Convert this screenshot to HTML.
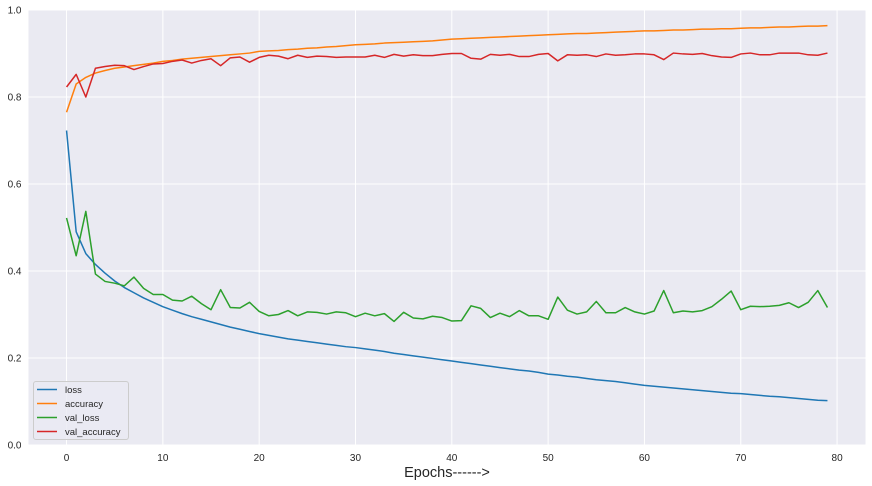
<!DOCTYPE html>
<html><head><meta charset="utf-8"><style>
body{margin:0;background:#fff;}
svg{display:block;font-family:"Liberation Sans",sans-serif;}
</style></head><body>
<svg id="chart" width="872" height="486"></svg>
<script>
const epochs=[];for(let i=0;i<80;i++)epochs.push(i);
const loss=[0.723,0.49,0.44,0.415,0.395,0.377,0.362,0.35,0.338,0.328,0.318,0.31,0.302,0.295,0.289,0.283,0.277,0.271,0.266,0.261,0.256,0.252,0.248,0.244,0.241,0.238,0.235,0.232,0.229,0.226,0.224,0.221,0.218,0.215,0.211,0.208,0.205,0.202,0.199,0.196,0.193,0.190,0.187,0.184,0.181,0.178,0.175,0.172,0.170,0.167,0.163,0.161,0.158,0.156,0.153,0.150,0.148,0.146,0.143,0.140,0.137,0.135,0.133,0.131,0.129,0.127,0.125,0.123,0.121,0.119,0.118,0.116,0.114,0.112,0.111,0.109,0.107,0.105,0.103,0.102];
const accuracy=[0.765,0.83,0.845,0.855,0.861,0.866,0.869,0.872,0.875,0.878,0.882,0.884,0.887,0.889,0.891,0.893,0.895,0.897,0.899,0.901,0.905,0.906,0.907,0.909,0.910,0.912,0.913,0.915,0.916,0.918,0.920,0.921,0.922,0.924,0.925,0.926,0.927,0.928,0.929,0.931,0.933,0.934,0.935,0.936,0.937,0.938,0.939,0.940,0.941,0.942,0.943,0.944,0.945,0.946,0.946,0.947,0.948,0.949,0.950,0.951,0.952,0.952,0.953,0.954,0.954,0.955,0.956,0.956,0.957,0.957,0.958,0.959,0.959,0.960,0.961,0.961,0.962,0.963,0.963,0.964];
const valLoss=[0.522,0.435,0.537,0.393,0.376,0.372,0.366,0.386,0.36,0.346,0.346,0.333,0.331,0.342,0.325,0.311,0.357,0.316,0.315,0.328,0.307,0.297,0.300,0.309,0.297,0.306,0.305,0.301,0.306,0.304,0.295,0.303,0.297,0.302,0.284,0.305,0.292,0.290,0.296,0.293,0.285,0.286,0.320,0.314,0.293,0.303,0.295,0.309,0.297,0.297,0.289,0.340,0.310,0.301,0.306,0.330,0.304,0.304,0.316,0.306,0.301,0.308,0.355,0.304,0.308,0.306,0.309,0.318,0.335,0.354,0.311,0.319,0.318,0.319,0.321,0.327,0.316,0.328,0.355,0.316];
const valAccuracy=[0.823,0.852,0.800,0.866,0.870,0.873,0.872,0.863,0.870,0.876,0.877,0.882,0.885,0.878,0.884,0.888,0.872,0.890,0.892,0.880,0.891,0.896,0.894,0.888,0.896,0.891,0.894,0.893,0.891,0.892,0.892,0.892,0.896,0.891,0.898,0.894,0.897,0.895,0.895,0.898,0.900,0.900,0.889,0.887,0.898,0.896,0.898,0.893,0.893,0.898,0.900,0.883,0.897,0.896,0.897,0.893,0.899,0.896,0.897,0.899,0.899,0.897,0.886,0.901,0.899,0.898,0.900,0.895,0.892,0.891,0.899,0.901,0.897,0.897,0.901,0.901,0.901,0.897,0.896,0.901];
const xTicks=[0,10,20,30,40,50,60,70,80];
const yTicks=[0.0,0.2,0.4,0.6,0.8,1.0];
const seriesNames=['loss','accuracy','val_loss','val_accuracy'];
const seriesColors=['#1f77b4','#ff7f0e','#2ca02c','#d62728'];
const seriesData=[loss,accuracy,valLoss,valAccuracy];

const NS='http://www.w3.org/2000/svg';
const svg=document.getElementById('chart');
const L=28.5,R=865.5,T=10,B=445;
const xmin=-3.95,xmax=82.95;
const X=v=>L+(v-xmin)/(xmax-xmin)*(R-L);
const Y=v=>B-v*(B-T);
function mk(tag,attrs,parent){const e=document.createElementNS(NS,tag);for(const k in attrs)e.setAttribute(k,attrs[k]);(parent||svg).appendChild(e);return e;}
const bg=mk('rect',{x:L,y:T,width:R-L,height:B-T,fill:'#eaeaf2'});


xTicks.forEach(t=>{
  const g=mk('line',{x1:X(t),x2:X(t),y1:T,y2:B,stroke:'#fff','stroke-width':1});
  
  
  const tx=mk('text',{x:X(t),y:B+16,'text-anchor':'middle','font-size':10,fill:'#262626'});
  tx.textContent=t;
  
  
});
yTicks.forEach(t=>{
  const g=mk('line',{x1:L,x2:R,y1:Y(t),y2:Y(t),stroke:'#fff','stroke-width':1});
  
  
  const tx=mk('text',{x:L-7,y:Y(t)+3.5,'text-anchor':'end','font-size':10,fill:'#262626'});
  tx.textContent=t.toFixed(1);
  
  
});
seriesData.forEach((d,i)=>{
  const p=mk('polyline',{points:d.map((v,j)=>X(epochs[j])+','+Y(v)).join(' '),fill:'none',stroke:seriesColors[i],'stroke-width':1.5,'stroke-linejoin':'round'});
  
  
});
const xl=mk('text',{x:(L+R)/2,y:477,'text-anchor':'middle','font-size':14.5,fill:'#262626'});
xl.textContent='Epochs------>';


const lg=mk('g',{});


mk('rect',{x:33.5,y:381.5,width:95,height:58,rx:2.5,fill:'#eaeaf2','fill-opacity':0.8,stroke:'#cccccc','stroke-width':1},lg);
seriesNames.forEach((n,i)=>{
  const yy=389.5+i*14;
  const ln=mk('line',{x1:37,x2:57,y1:yy,y2:yy,stroke:seriesColors[i],'stroke-width':1.5},lg);
  
  
  const t=mk('text',{x:65,y:yy+3.5,'font-size':9.5,fill:'#262626'},lg);
  t.textContent=n;
  
  
});
</script>
</body></html>
